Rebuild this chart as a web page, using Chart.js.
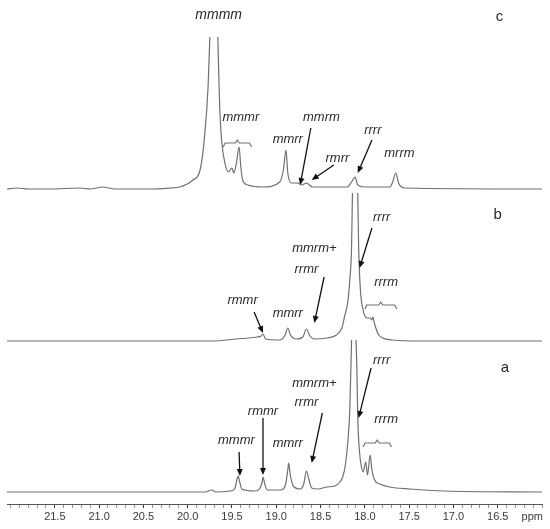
<!DOCTYPE html>
<html>
<head>
<meta charset="utf-8">
<script src="https://cdn.jsdelivr.net/npm/chart.js@4.4.1/dist/chart.umd.min.js"></script>
<style>
html, body { margin: 0; padding: 0; background: #fff; }
#wrap { width: 550px; height: 529px; }
</style>
</head>
<body>
<div id="wrap"><canvas id="chart" width="550" height="529"></canvas></div>
<script>
// spectra: [ppm, height above the trace baseline], null = clipped peak top
const traceC = [
    [22.04, 0], [21.93, 1], [21.80, 0], [21.56, 0], [21.22, 1], [21.10, 0], [20.96, 2], [20.82, 0],
    [20.43, 0], [20.20, 1], [20.09, 2], [19.94, 9], [19.86, 19], [19.81, 52], [19.77, 102], [19.75, 152],
    [19.71, null],
    [19.66, 152], [19.64, 86], [19.62, 52], [19.58, 26], [19.54, 17], [19.50, 21], [19.48, 16], [19.45, 26],
    [19.42, 42], [19.40, 22], [19.38, 9], [19.32, 4], [19.15, 2], [18.96, 7], [18.92, 19], [18.89, 39],
    [18.87, 16], [18.83, 6], [18.76, 6], [18.71, 4], [18.66, 6], [18.59, 2], [18.20, 2], [18.15, 7],
    [18.11, 12], [18.08, 4], [18.00, 2], [17.72, 2], [17.69, 6], [17.65, 16], [17.62, 6], [17.55, 1],
    [16.00, 0]
];
const traceB = [
    [22.04, 0], [21.44, 0], [20.77, 0], [20.09, 0], [19.72, 0], [19.45, 2], [19.22, 4], [19.17, 5],
    [19.15, 7], [19.12, 2], [18.96, 1], [18.90, 6], [18.87, 13], [18.84, 6], [18.77, 2], [18.70, 4],
    [18.66, 12], [18.62, 5], [18.57, 2], [18.43, 3], [18.32, 6], [18.26, 13], [18.23, 24], [18.19, 41],
    [18.17, 61], [18.15, 94], [18.14, 148],
    [18.11, null],
    [18.08, 148], [18.07, 94], [18.05, 51], [18.02, 31], [18.00, 25], [17.97, 23], [17.94, 23], [17.92, 21],
    [17.91, 24], [17.89, 17], [17.85, 7], [17.80, 3], [17.69, 1], [17.38, 0], [16.00, 0]
];
const traceA = [
    [22.04, 0], [20.99, 0], [19.98, 0], [19.80, 0], [19.73, 2], [19.68, 0], [19.52, 1], [19.47, 3],
    [19.45, 10], [19.43, 16], [19.41, 9], [19.39, 3], [19.24, 1], [19.19, 3], [19.16, 10], [19.15, 15],
    [19.13, 8], [19.10, 2], [18.95, 2], [18.90, 6], [18.87, 22], [18.86, 29], [18.84, 16], [18.80, 5],
    [18.73, 3], [18.69, 8], [18.66, 21], [18.63, 12], [18.60, 4], [18.53, 3], [18.43, 5], [18.34, 6],
    [18.28, 10], [18.25, 15], [18.22, 27], [18.19, 52], [18.17, 82], [18.15, 152],
    [18.12, null],
    [18.10, 152], [18.09, 124], [18.08, 74], [18.06, 40], [18.04, 26], [18.02, 20], [17.99, 30], [17.97, 17],
    [17.94, 37], [17.92, 22], [17.89, 12], [17.83, 8], [17.72, 5], [17.49, 3], [17.10, 1], [16.00, 0]
];
const tickLabels = ['21.5', '21.0', '20.5', '20.0', '19.5', '19.0', '18.5', '18.0', '17.5', '17.0', '16.5'];
const unitLabel = 'ppm';
const panelNames = ['c', 'b', 'a'];

// peak assignments: text, ppm, height on the chart
const peakNotes = [
    ['mmmm', 19.65, 489], ['mmmr', 19.40, 387], ['mmrr', 18.87, 365], ['mmrm', 18.49, 387],
    ['rmrr', 18.31, 346], ['rrrr', 17.91, 374], ['mrrm', 17.61, 351],
    ['rrrr', 17.81, 287], ['mmrm+', 18.57, 256], ['rrmr', 18.66, 235], ['rrrm', 17.76, 222],
    ['rmmr', 19.38, 204], ['mmrr', 18.87, 191],
    ['rrrr', 17.81, 144], ['mmrm+', 18.57, 121], ['rrmr', 18.66, 102], ['rmmr', 19.15, 93],
    ['mmmr', 19.45, 64], ['mmrr', 18.87, 61], ['rrrm', 17.76, 85]
];

const GREY = '#707070';
const FONT = '"Liberation Sans", Arial, sans-serif';
const baseLines = { c: 315, b: 163, a: 12 };

function toPoints(trace, base) {
    return trace.map(([p, h]) => ({ x: p, y: h === null ? null : h + base }));
}

function isMajor(v) {
    return tickLabels.includes(Number(v).toFixed(1));
}

const annotate = {
    id: 'annotate',
    afterDatasetsDraw(chart) {
        const ctx = chart.ctx;
        const xs = chart.scales.x, ys = chart.scales.y;
        const X = v => xs.getPixelForValue(v);
        const Y = v => ys.getPixelForValue(v);
        ctx.save();

        // italic peak labels
        ctx.fillStyle = '#2a2a2a';
        ctx.textAlign = 'center';
        ctx.textBaseline = 'middle';
        peakNotes.forEach(([t, p, h]) => {
            ctx.font = (t === 'mmmm' ? 'italic 14px ' : 'italic 13px ') + FONT;
            ctx.fillText(t, X(p), Y(h));
        });

        // panel letters
        ctx.font = '15px ' + FONT;
        const letterPos = [[16.48, 487], [16.50, 289], [16.42, 136]];
        panelNames.forEach((n, i) => ctx.fillText(n, X(letterPos[i][0]), Y(letterPos[i][1])));

        // arrows
        const arrows = [
            [18.61, 376, 18.73, 319], [18.35, 339, 18.60, 324], [17.92, 364, 18.08, 331],
            [17.92, 276, 18.06, 236], [18.46, 227, 18.57, 181], [19.25, 192, 19.15, 171],
            [17.93, 136, 18.07, 86], [18.48, 91, 18.60, 41], [19.15, 86, 19.15, 29], [19.42, 52, 19.41, 28]
        ];
        ctx.strokeStyle = '#111';
        ctx.fillStyle = '#111';
        ctx.lineWidth = 1.3;
        arrows.forEach(([p1, h1, p2, h2]) => {
            const x1 = X(p1), y1 = Y(h1), x2 = X(p2), y2 = Y(h2);
            const a = Math.atan2(y2 - y1, x2 - x1);
            ctx.beginPath();
            ctx.moveTo(x1, y1);
            ctx.lineTo(x2 - 5 * Math.cos(a), y2 - 5 * Math.sin(a));
            ctx.stroke();
            ctx.beginPath();
            ctx.moveTo(x2, y2);
            ctx.lineTo(x2 - 7 * Math.cos(a) + 3 * Math.sin(a), y2 - 7 * Math.sin(a) - 3 * Math.cos(a));
            ctx.lineTo(x2 - 7 * Math.cos(a) - 3 * Math.sin(a), y2 - 7 * Math.sin(a) + 3 * Math.cos(a));
            ctx.closePath();
            ctx.fill();
        });

        // brackets over the multiplets
        const braces = [[19.60, 19.28, 361], [18.00, 17.64, 199], [18.02, 17.70, 61]];
        ctx.strokeStyle = GREY;
        ctx.lineWidth = 1.2;
        braces.forEach(([p1, p2, h]) => {
            const x1 = X(p1), x2 = X(p2), y = Y(h), m = (x1 + x2) / 2;
            ctx.beginPath();
            ctx.moveTo(x1, y + 4);
            ctx.lineTo(x1 + 2, y);
            ctx.lineTo(m - 2, y);
            ctx.lineTo(m, y - 3);
            ctx.lineTo(m + 2, y);
            ctx.lineTo(x2 - 2, y);
            ctx.lineTo(x2, y + 4);
            ctx.stroke();
        });

        // unit after the last tick label
        ctx.fillStyle = '#3a3a3a';
        ctx.font = '11px ' + FONT;
        ctx.fillText(unitLabel, X(16.11), xs.top + 13);
        ctx.restore();
    }
};

const lineStyle = {
    borderColor: GREY,
    borderWidth: 1.2,
    pointRadius: 0,
    spanGaps: false,
    cubicInterpolationMode: 'monotone',
    fill: false
};

new Chart(document.getElementById('chart'), {
    type: 'line',
    data: {
        datasets: [
            Object.assign({ label: 'c', data: toPoints(traceC, baseLines.c) }, lineStyle),
            Object.assign({ label: 'b', data: toPoints(traceB, baseLines.b) }, lineStyle),
            Object.assign({ label: 'a', data: toPoints(traceA, baseLines.a) }, lineStyle)
        ]
    },
    options: {
        responsive: false,
        animation: false,
        layout: { padding: { left: 7, right: 8, top: 0, bottom: 0 } },
        plugins: { legend: { display: false }, tooltip: { enabled: false } },
        scales: {
            x: {
                type: 'linear',
                reverse: true,
                min: 16.0,
                max: 22.04,
                border: { color: '#555', width: 1 },
                grid: {
                    drawOnChartArea: false,
                    drawTicks: true,
                    tickLength: 4,
                    tickColor: ctx => (ctx.tick && isMajor(ctx.tick.value)) ? '#333' : '#999'
                },
                ticks: {
                    autoSkip: false,
                    maxRotation: 0,
                    minRotation: 0,
                    includeBounds: false,
                    padding: 2,
                    color: '#3a3a3a',
                    font: { family: FONT, size: 11 },
                    callback: v => isMajor(v) ? Number(v).toFixed(1) : ''
                },
                afterBuildTicks: s => {
                    const t = [];
                    for (let i = 160; i <= 220; i++) t.push({ value: i / 10 });
                    s.ticks = t;
                },
                afterFit: s => { s.height = 25; }
            },
            y: { display: false, min: 0, max: 504 }
        }
    },
    plugins: [annotate]
});
</script>
</body>
</html>
